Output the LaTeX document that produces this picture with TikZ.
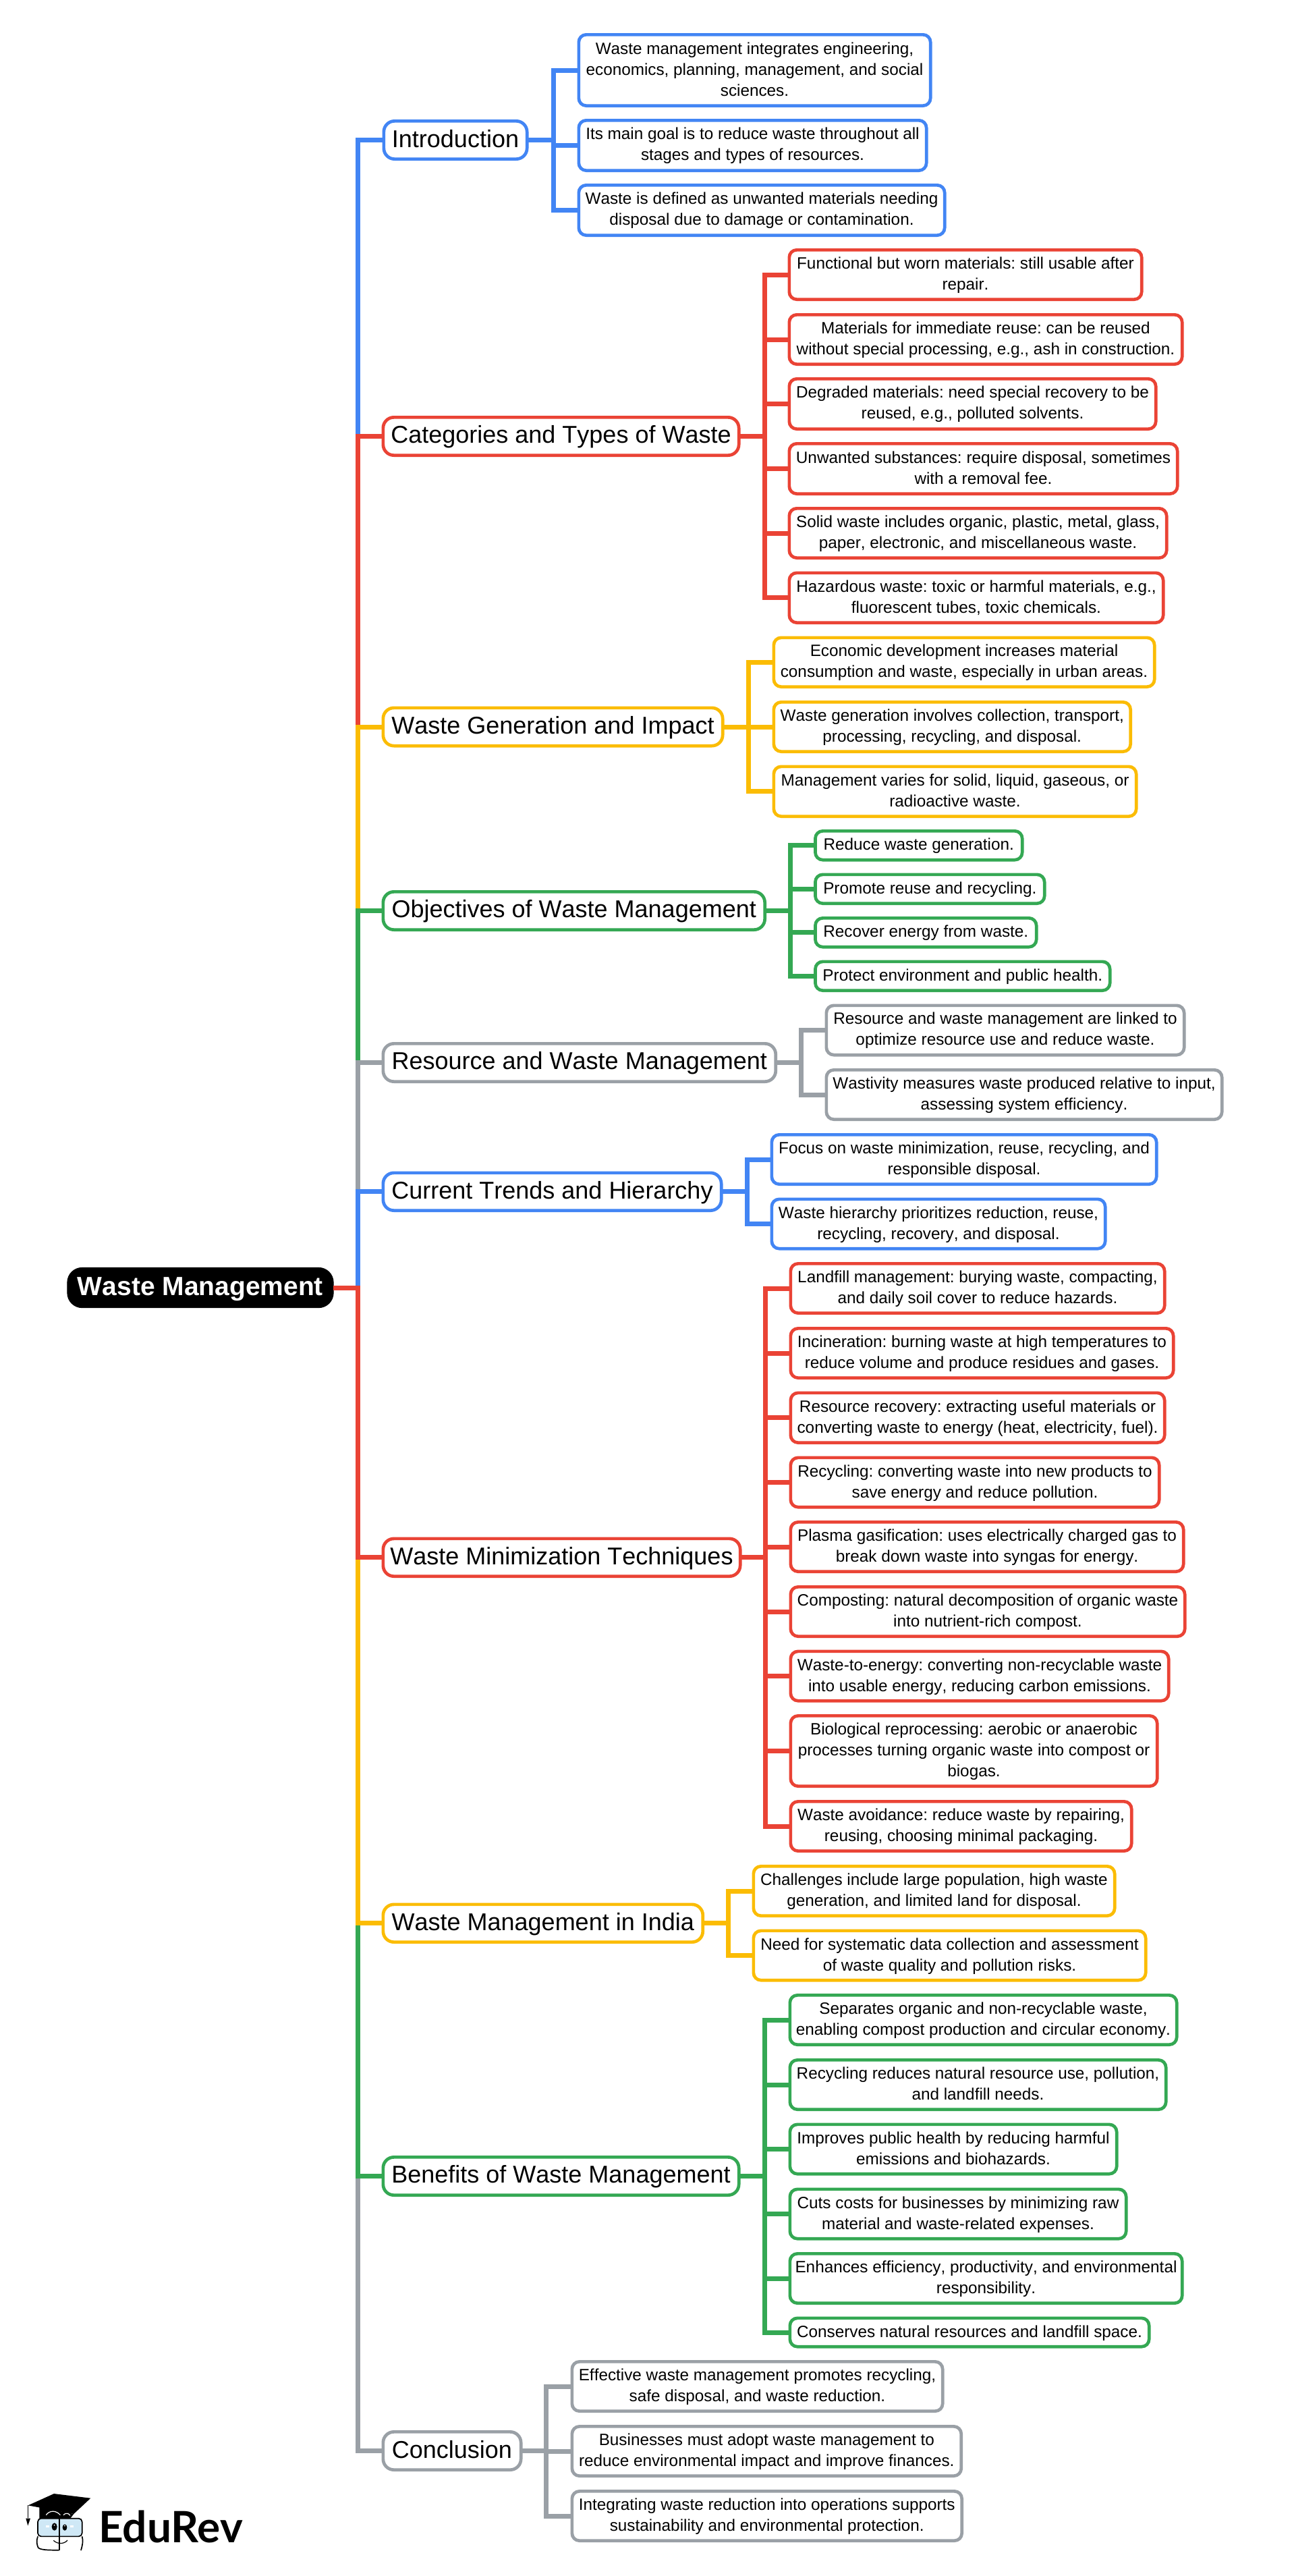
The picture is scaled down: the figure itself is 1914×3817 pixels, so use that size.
\documentclass[tikz,border=0pt]{standalone}
\usepackage{fontspec}
\setmainfont{Liberation Sans}[Kerning=Off]
\newfontfamily\logofont{Lato}
\definecolor{cblue}{HTML}{4285F4}
\definecolor{cred}{HTML}{EA4335}
\definecolor{cyel}{HTML}{FBBC04}
\definecolor{cgrn}{HTML}{34A853}
\definecolor{cgry}{HTML}{9AA0A6}
\definecolor{cglass}{HTML}{CFE8F6}
\tikzset{
  x=1pt,y=-1pt,
  leafbox/.style={draw,fill=white,line width=4.7pt,rounded corners=11pt,inner sep=0pt,outer sep=0pt,align=center,font=\frenchspacing\fontsize{24.3}{31}\selectfont},
  topicbox/.style={draw,fill=white,line width=4.7pt,rounded corners=16pt,inner sep=0pt,outer sep=0pt,align=center,font=\fontsize{36}{42}\selectfont},
  rootbox/.style={draw=black,fill=black,text=white,line width=1pt,rounded corners=22pt,inner sep=0pt,outer sep=0pt,align=center,font=\fontsize{39}{45}\selectfont\bfseries},
  conn/.style={line width=7pt,line join=miter,line cap=butt},
}
\newcommand{\ls}{\rule[-5pt]{0pt}{24pt}}
\newcommand{\ts}{\rule[-6pt]{0pt}{34pt}}
\newcommand{\rs}{\rule[-8pt]{0pt}{40pt}}
% name, x1, y1, x2, y2, style, text
\newcommand{\nd}[7]{\node[#6,minimum width={(#4-#2-0.7)*1pt},minimum height={(#5-#3-2.7)*1pt}] (#1) at ({(#2+#4)/2-0.5},{(#3+#5)/2}) {#7};}
\newcommand{\leaf}[7]{\nd{#1}{#2}{#3}{#4}{#5}{leafbox,draw=#6}{\ls #7\ls}}
\newcommand{\topic}[7]{\nd{#1}{#2}{#3}{#4}{#5}{topicbox,draw=#6}{\ts #7\ts}}
% colour, parent, branch coordinate, children
\newcommand{\kids}[4]{\foreach \k in {#4} {\draw[conn,#1] (#2.east) -- (#2.east -| #3) -- (\k.west -| #3) -- (\k.west);}}
% colour, topic
\newcommand{\limb}[2]{\draw[conn,#1] (root.east) -- (root.east -| trunk) -- (#2.west -| trunk) -- (#2.west);}
\begin{document}
\begin{tikzpicture}
\useasboundingbox (0,0) rectangle (1914,3817);
\fill[white] (0,0) rectangle (1914,3817);
\coordinate (trunk) at (530.5,0);
\coordinate (bi) at (820.5,0);
\coordinate (bc) at (1133,0);
\coordinate (bg) at (1109.5,0);
\coordinate (bo) at (1171,0);
\coordinate (br) at (1187,0);
\coordinate (bt) at (1107,0);
\coordinate (bm) at (1134.5,0);
\coordinate (bn) at (1079,0);
\coordinate (bb) at (1133,0);
\coordinate (be) at (809.5,0);

\nd{root}{100}{1877}{495}{1939}{rootbox}{\rs Waste Management\rs}

\topic{intro}{569}{178}{782}{237}{cblue}{Introduction}
\topic{cat}{568}{617}{1096}{676}{cred}{Categories and Types of Waste}
\topic{gen}{568}{1047.5}{1072}{1106.5}{cyel}{Waste Generation and Impact}
\topic{obj}{568}{1320}{1134.5}{1379}{cgrn}{Objectives of Waste Management}
\topic{res}{568}{1545}{1150.6}{1604}{cgry}{Resource and Waste Management}
\topic{cur}{568}{1736.5}{1070}{1795}{cblue}{Current Trends and Hierarchy}
\topic{min}{568}{2278.5}{1098}{2337}{cred}{Waste Minimization Techniques}
\topic{ind}{568}{2820.5}{1042.6}{2879}{cyel}{Waste Management in India}
\topic{ben}{568}{3195}{1096}{3254}{cgrn}{Benefits of Waste Management}
\topic{con}{568}{3602}{773}{3661}{cgry}{Conclusion}

\leaf{i1}{858}{50}{1380}{158}{cblue}{Waste management integrates engineering,\\economics, planning, management, and social\\sciences.}
\leaf{i2}{858}{177}{1374}{254}{cblue}{Its main goal is to reduce waste throughout all\\stages and types of resources.}
\leaf{i3}{858}{273}{1401}{350}{cblue}{Waste is defined as unwanted materials needing\\disposal due to damage or contamination.}

\leaf{c1}{1170}{369}{1693}{445}{cred}{Functional but worn materials: still usable after\\repair.}
\leaf{c2}{1170}{465}{1753}{541}{cred}{Materials for immediate reuse: can be reused\\without special processing, e.g., ash in construction.}
\leaf{c3}{1170}{560}{1714}{637}{cred}{Degraded materials: need special recovery to be\\reused, e.g., polluted solvents.}
\leaf{c4}{1170}{656}{1746}{733}{cred}{Unwanted substances: require disposal, sometimes\\with a removal fee.}
\leaf{c5}{1170}{752}{1730}{828}{cred}{Solid waste includes organic, plastic, metal, glass,\\paper, electronic, and miscellaneous waste.}
\leaf{c6}{1170}{847.5}{1725}{924}{cred}{Hazardous waste: toxic or harmful materials, e.g.,\\fluorescent tubes, toxic chemicals.}

\leaf{g1}{1147}{943.5}{1712}{1019}{cyel}{Economic development increases material\\consumption and waste, especially in urban areas.}
\leaf{g2}{1147}{1039}{1676.5}{1115}{cyel}{Waste generation involves collection, transport,\\processing, recycling, and disposal.}
\leaf{g3}{1147}{1134.5}{1685}{1211}{cyel}{Management varies for solid, liquid, gaseous, or\\radioactive waste.}

\leaf{o1}{1208.6}{1230}{1516}{1275.5}{cgrn}{Reduce waste generation.}
\leaf{o2}{1208.6}{1294.5}{1549}{1340}{cgrn}{Promote reuse and recycling.}
\leaf{o3}{1208.6}{1359}{1537}{1404.5}{cgrn}{Recover energy from waste.}
\leaf{o4}{1208.6}{1423.5}{1646}{1469}{cgrn}{Protect environment and public health.}

\leaf{r1}{1225}{1488.5}{1756}{1564.5}{cgry}{Resource and waste management are linked to\\optimize resource use and reduce waste.}
\leaf{r2}{1225}{1584}{1812}{1660}{cgry}{Wastivity measures waste produced relative to input,\\assessing system efficiency.}

\leaf{t1}{1144}{1680}{1715}{1756}{cblue}{Focus on waste minimization, reuse, recycling, and\\responsible disposal.}
\leaf{t2}{1144}{1775.5}{1639}{1851.5}{cblue}{Waste hierarchy prioritizes reduction, reuse,\\recycling, recovery, and disposal.}

\leaf{m1}{1172}{1871}{1727}{1947}{cred}{Landfill management: burying waste, compacting,\\and daily soil cover to reduce hazards.}
\leaf{m2}{1172}{1967}{1740}{2043}{cred}{Incineration: burning waste at high temperatures to\\reduce volume and produce residues and gases.}
\leaf{m3}{1172}{2062.5}{1727}{2139}{cred}{Resource recovery: extracting useful materials or\\converting waste to energy (heat, electricity, fuel).}
\leaf{m4}{1172}{2158.5}{1719}{2234.5}{cred}{Recycling: converting waste into new products to\\save energy and reduce pollution.}
\leaf{m5}{1172}{2254}{1755}{2330}{cred}{Plasma gasification: uses electrically charged gas to\\break down waste into syngas for energy.}
\leaf{m6}{1172}{2350}{1757}{2426}{cred}{Composting: natural decomposition of organic waste\\into nutrient-rich compost.}
\leaf{m7}{1172}{2445.5}{1733}{2521.5}{cred}{Waste-to-energy: converting non-recyclable waste\\into usable energy, reducing carbon emissions.}
\leaf{m8}{1172}{2541}{1716}{2648}{cred}{Biological reprocessing: aerobic or anaerobic\\processes turning organic waste into compost or\\biogas.}
\leaf{m9}{1172}{2668}{1678}{2744}{cred}{Waste avoidance: reduce waste by repairing,\\reusing, choosing minimal packaging.}

\leaf{n1}{1117}{2764}{1653}{2840}{cyel}{Challenges include large population, high waste\\generation, and limited land for disposal.}
\leaf{n2}{1117}{2859.5}{1699}{2935.5}{cyel}{Need for systematic data collection and assessment\\of waste quality and pollution risks.}

\leaf{b1}{1171}{2955}{1745}{3031}{cgrn}{Separates organic and non-recyclable waste,\\enabling compost production and circular economy.}
\leaf{b2}{1171}{3051}{1729}{3127}{cgrn}{Recycling reduces natural resource use, pollution,\\and landfill needs.}
\leaf{b3}{1171}{3146.5}{1656}{3222.5}{cgrn}{Improves public health by reducing harmful\\emissions and biohazards.}
\leaf{b4}{1171}{3242.5}{1670}{3318.5}{cgrn}{Cuts costs for businesses by minimizing raw\\material and waste-related expenses.}
\leaf{b5}{1171}{3338}{1753}{3414}{cgrn}{Enhances efficiency, productivity, and environmental\\responsibility.}
\leaf{b6}{1171}{3433.5}{1704}{3478.5}{cgrn}{Conserves natural resources and landfill space.}

\leaf{e1}{848}{3498}{1398}{3574}{cgry}{Effective waste management promotes recycling,\\safe disposal, and waste reduction.}
\leaf{e2}{848}{3594}{1425.6}{3670}{cgry}{Businesses must adopt waste management to\\reduce environmental impact and improve finances.}
\leaf{e3}{848}{3690}{1426.5}{3766}{cgry}{Integrating waste reduction into operations supports\\sustainability and environmental protection.}

% trunk: upper limbs first to nearest, lower limbs farthest to nearest
\limb{cblue}{intro}\limb{cred}{cat}\limb{cyel}{gen}\limb{cgrn}{obj}\limb{cgry}{res}\limb{cblue}{cur}
\limb{cgry}{con}\limb{cgrn}{ben}\limb{cyel}{ind}\limb{cred}{min}

\kids{cblue}{intro}{bi}{i1,i2,i3}
\kids{cred}{cat}{bc}{c1,c2,c3,c4,c5,c6}
\kids{cyel}{gen}{bg}{g1,g2,g3}
\kids{cgrn}{obj}{bo}{o1,o2,o3,o4}
\kids{cgry}{res}{br}{r1,r2}
\kids{cblue}{cur}{bt}{t1,t2}
\kids{cred}{min}{bm}{m1,m2,m3,m4,m5,m6,m7,m8,m9}
\kids{cyel}{ind}{bn}{n1,n2}
\kids{cgrn}{ben}{bb}{b1,b2,b3,b4,b5,b6}
\kids{cgry}{con}{be}{e1,e2,e3}

% logo
\node[anchor=base west,inner sep=0pt,font=\fontsize{64}{70}\selectfont\logofont\bfseries] (logo) at (146,3767) {EduRev};
\begin{scope}[shift={(30,3680)},x=0.3333pt,y=-0.3333pt]
  \fill[black] (35,97) -- (150,45) -- (313,65) -- (238,135) -- cycle;
  \fill[black] (85,104) -- (238,135) -- (222,156) -- (85,156) -- cycle;
  \draw[white,line width=1.2pt] (115,140) .. controls (130,118) and (160,118) .. (178,140);
  \draw[white,line width=1.2pt] (192,140) .. controls (200,130) and (215,130) .. (222,142);
  \draw[black,line width=1.2pt] (35,97) -- (35,152);
  \fill[black] (25,155) -- (45,155) -- (34,187) -- cycle;
  \draw[black,fill=cglass,line width=1.7pt,rounded corners=5pt] (78,155) rectangle (275,235);
  \draw[black,line width=1.7pt] (78,235) .. controls (70,255) and (75,275) .. (80,285) .. controls (90,296) and (130,296) .. (172,296);
  \draw[black,line width=1.7pt] (275,235) .. controls (282,255) and (275,280) .. (270,297);
  \draw[black,line width=1.7pt] (175,155) -- (175,298);
  \fill[black] (152,192) ellipse [x radius=12,y radius=17];
  \fill[black] (198,195) ellipse [x radius=10,y radius=14];
  \fill[white] (152,185) circle [radius=3];
  \fill[white] (198,188) circle [radius=3];
  \fill[white] (115,185) rectangle (130,195);
  \fill[white] (222,185) rectangle (237,195);
  \draw[black,line width=1.2pt] (148,253) .. controls (165,270) and (195,270) .. (210,252);
\end{scope}
\end{tikzpicture}
\end{document}
